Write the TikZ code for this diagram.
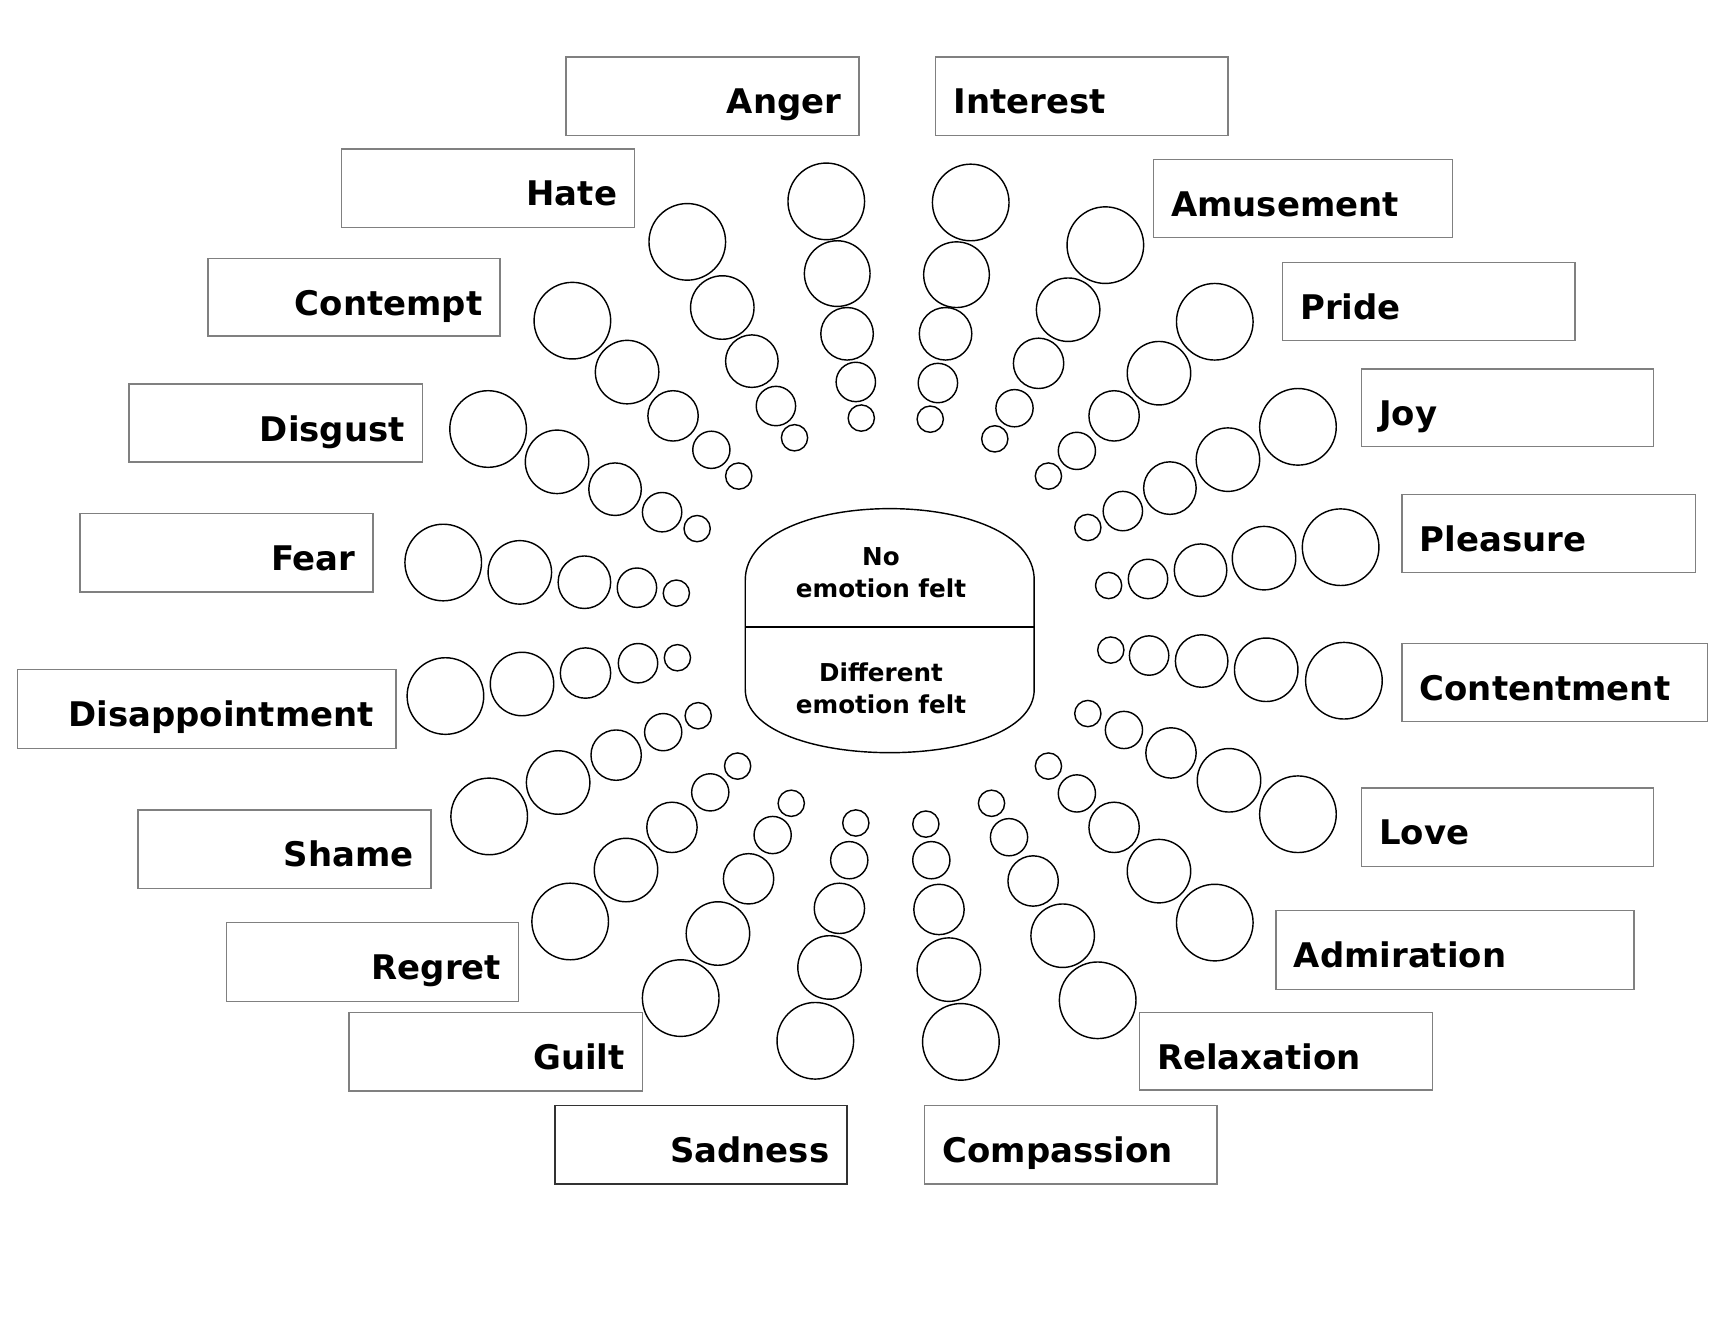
\documentclass[tikz,border=0pt]{standalone}
\usepackage{fontspec}
\setmainfont{DejaVu Sans}
\begin{document}
\begin{tikzpicture}[x=1pt,y=-1pt,
  bub/.style={draw=black,line width=1.3pt},
  lbl/.style={draw=black!50,line width=1.3pt},
  ltxt/.style={font=\fontsize{31}{32}\selectfont\bfseries,inner sep=0pt},
  ctxt/.style={font=\fontsize{22.5}{29}\selectfont\bfseries,inner sep=0pt,align=center}]
\useasboundingbox (0,0) rectangle (1568,1210);
% circles
\foreach \x/\y/\r [count=\i] in {
755/184/35,765/250/30,774/305/24,782/349/18,787/382/12,
887/185/35,874/251/30,864/305/24,857/350/18,850/383/12,
628/221/35,660/281/29,687/330/24,709/371/18,726/400/12,
1010/224/35,976/283/29,949/332/23,927/373/17,909/401/12,
523/293/35,573/340/29,615/380/23,650/411/17,675/435/12,
1110/294/35,1059/341/29,1018/380/23,984/412/17,958/435/12,
446/392/35,509/422/29,562/447/24,605/468/18,637/483/12,
1186/390/35,1122/420/29,1069/446/24,1026/467/18,994/482/12,
405/514/35,475/523/29,534/532/24,582/537/18,618/542/12,
1225/500/35,1155/510/29,1097/521/24,1049/529/18,1013/535/12,
407/636/35,477/625/29,535/615/23,583/606/18,619/601/12,
1228/622/35,1157/612/29,1098/604/24,1050/599/18,1015/594/12,
447/746/35,510/715/29,563/690/23,606/669/17,638/654/12,
1186/744/35,1123/713/29,1070/688/23,1027/667/17,994/652/12,
521/842/35,572/795/29,614/756/23,649/724/17,674/700/12,
1110/843/35,1059/796/29,1018/756/23,984/725/17,958/700/12,
622/912/35,656/853/29,684/803/23,706/763/17,723/734/12,
1003/914/35,971/855/29,944/805/23,922/765/17,906/734/12,
745/951/35,758/884/29,767/830/23,776/786/17,782/752/12,
878/952/35,867/886/29,858/831/23,851/786/17,846/753/12}
  \node[bub,circle,minimum size=2*\r pt,inner sep=0pt] (c\i) at (\x,\y) {};
% left boxes (text right aligned)
\foreach \a/\b/\c/\d/\t in {517/52/785/124/Anger,312/136/580/208/Hate,190/236/457/307/Contempt,
118/351/386/422/Disgust,73/469/341/541/Fear,126/740/394/812/Shame,
207/843/474/915/Regret,319/925/587/997/Guilt}{
  \draw[lbl] (\a,\b) rectangle (\c,\d);
  \node[ltxt,anchor=base east] (t\t) at (\c-16,\b+52) {\t};}
\draw[line width=1.5pt,draw=black!80] (507,1010) rectangle (774,1082);
\node[ltxt,anchor=base east] (tSadness) at (758,1062) {Sadness};
\draw[lbl] (16,612) rectangle (362,684);
\node[ltxt,anchor=base] (tDis) at (202,664) {Disappointment};
% right boxes
\foreach \a/\b/\c/\d/\t in {855/52/1122/124/Interest,1054/146/1327/217/Amusement,1172/240/1439/311/Pride,
1244/337/1511/408/Joy,1281/452/1549/523/Pleasure,1281/588/1560/659/Contentment,
1244/720/1511/792/Love,1166/832/1493/904/Admiration,1041/925/1309/996/Relaxation,
845/1010/1112/1082/Compassion}{
  \draw[lbl] (\a,\b) rectangle (\c,\d);
  \node[ltxt,anchor=base west] (t\t) at (\a+16,\b+52) {\t};}
% center
\draw[line width=1.3pt] (681,530) .. controls (681,443) and (945,443) .. (945,530)
  -- (945,630) .. controls (945,707) and (681,707) .. (681,630) -- cycle;
\draw[line width=1.3pt] (681,573) -- (945,573);
\node[ctxt] (no) at (805,523) {No\\emotion felt};
\node[ctxt] (diff) at (805,629) {Different\\emotion felt};
\end{tikzpicture}
\end{document}
